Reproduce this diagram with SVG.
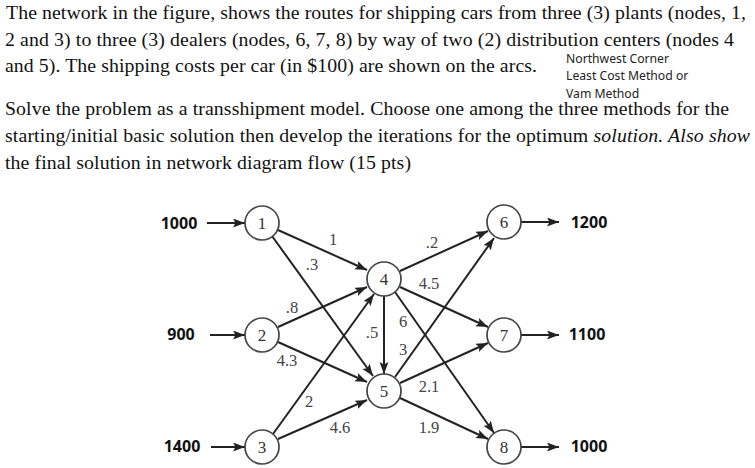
<svg xmlns="http://www.w3.org/2000/svg" width="755" height="468" viewBox="0 0 755 468">
<style>
.p{font-family:"Liberation Serif",serif;font-size:19.8px;fill:#111}
.n{font-family:"Noto Sans","Open Sans",sans-serif;font-size:12.2px;fill:#222}
.c{fill:#fff;stroke:#444;stroke-width:1.7}
.t{font-family:"Liberation Serif",serif;font-size:17px;fill:#333;text-anchor:middle}
.l{font-family:"Liberation Serif",serif;font-size:16.5px;fill:#444;text-anchor:middle}
.s{font-family:"Open Sans","Liberation Sans",sans-serif;font-weight:700;font-size:16px;fill:#111;text-anchor:middle}
#connectors line{stroke:#222;stroke-width:2;marker-end:url(#a)}
</style>
<defs><marker id="a" markerUnits="userSpaceOnUse" markerWidth="13" markerHeight="10" refX="12" refY="4.500" orient="auto"><path d="M0 0L12 4.500L0 9L2.500 4.500Z" fill="#222"/></marker></defs>
<rect width="755" height="468" fill="#fff"/>
<g id="text">
<text class="p" x="6" y="19" textLength="740">The network in the figure, shows the routes for shipping cars from three (3) plants (nodes, 1,</text>
<text class="p" x="5" y="45.500" textLength="729">2 and 3) to three (3) dealers (nodes, 6, 7, 8) by way of two (2) distribution centers (nodes 4</text>
<text class="p" x="5" y="72" textLength="532">and 5). The shipping costs per car (in $100) are shown on the arcs.</text>
<text class="p" x="5" y="115" textLength="724">Solve the problem as a transshipment model. Choose one among the three methods for the</text>
<text class="p" x="5" y="141.500" textLength="745">starting/initial basic solution then develop the iterations for the optimum <tspan font-style="italic">solution. Also show</tspan></text>
<text class="p" x="5" y="168.500" textLength="406">the final solution in network diagram flow (15 pts)</text>
<text class="n" x="566" y="63">Northwest Corner</text>
<text class="n" x="566" y="80">Least Cost Method or</text>
<text class="n" x="566" y="98">Vam Method</text>
</g>
<g id="connectors">
<line x1="207" y1="223" x2="245" y2="223"/>
<line x1="210" y1="335" x2="245" y2="335"/>
<line x1="211" y1="447" x2="245" y2="447"/>
<line x1="278" y1="230" x2="367" y2="270"/>
<line x1="272" y1="236" x2="373" y2="376"/>
<line x1="278" y1="327" x2="367" y2="287"/>
<line x1="278" y1="342" x2="367" y2="382"/>
<line x1="273" y1="434" x2="374" y2="294"/>
<line x1="278" y1="439" x2="367" y2="400"/>
<line x1="384" y1="296" x2="384" y2="374"/>
<line x1="400" y1="271" x2="488" y2="231"/>
<line x1="400" y1="287" x2="488" y2="327"/>
<line x1="395" y1="292" x2="494" y2="433"/>
<line x1="395" y1="377" x2="494" y2="238"/>
<line x1="400" y1="383" x2="488" y2="343"/>
<line x1="400" y1="398" x2="488" y2="439"/>
<line x1="521" y1="222" x2="559" y2="222"/>
<line x1="521" y1="335" x2="559" y2="335"/>
<line x1="521" y1="447" x2="559" y2="447"/>
</g>
<g id="node1"><circle class="c" cx="262" cy="223" r="17"/><text class="t" x="262" y="229">1</text></g>
<g id="node2"><circle class="c" cx="262" cy="335" r="17"/><text class="t" x="262" y="341">2</text></g>
<g id="node3"><circle class="c" cx="262" cy="447" r="17"/><text class="t" x="262" y="453">3</text></g>
<g id="node4"><circle class="c" cx="384" cy="279" r="17"/><text class="t" x="384" y="285">4</text></g>
<g id="node5"><circle class="c" cx="384" cy="391" r="17"/><text class="t" x="384" y="397">5</text></g>
<g id="node6"><circle class="c" cx="504" cy="222" r="17"/><text class="t" x="504" y="228">6</text></g>
<g id="node7"><circle class="c" cx="504" cy="335" r="17"/><text class="t" x="504" y="341">7</text></g>
<g id="node8"><circle class="c" cx="504" cy="447" r="17"/><text class="t" x="504" y="453">8</text></g>
<g id="labels">
<text class="s" x="179" y="229">1000</text>
<text class="s" x="181" y="340">900</text>
<text class="s" x="182" y="452">1400</text>
<text class="s" x="589" y="228">1200</text>
<text class="s" x="587" y="340">1100</text>
<text class="s" x="589" y="452">1000</text>
<text class="l" x="333" y="245">1</text>
<text class="l" x="312" y="270">.3</text>
<text class="l" x="292" y="313">.8</text>
<text class="l" x="287" y="366">4.3</text>
<text class="l" x="309" y="407">2</text>
<text class="l" x="340" y="433">4.6</text>
<text class="l" x="372" y="338">.5</text>
<text class="l" x="432" y="248">.2</text>
<text class="l" x="429" y="289">4.5</text>
<text class="l" x="403" y="327">6</text>
<text class="l" x="403" y="355">3</text>
<text class="l" x="429" y="392">2.1</text>
<text class="l" x="429" y="433">1.9</text>
</g>
</svg>
